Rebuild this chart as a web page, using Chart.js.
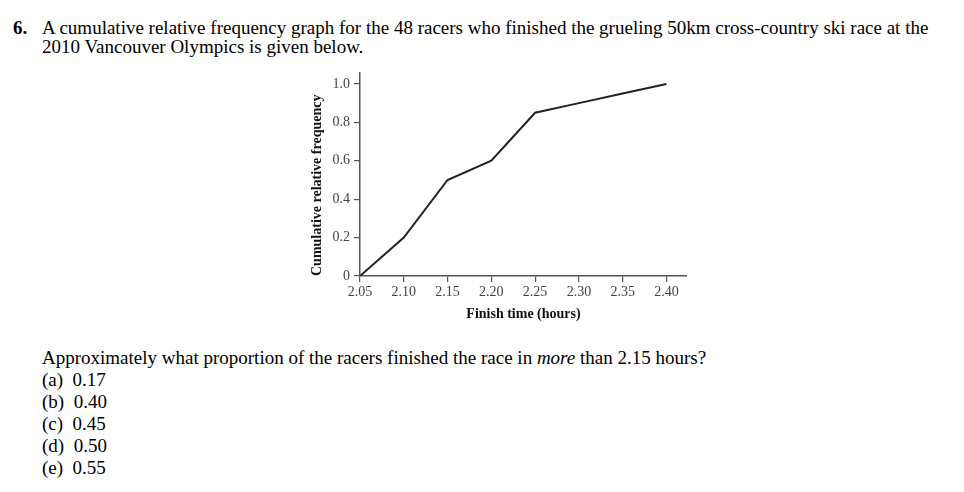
<!DOCTYPE html>
<html>
<head>
<meta charset="utf-8">
<script src="https://cdn.jsdelivr.net/npm/chart.js@4.4.1/dist/chart.umd.min.js"></script>
<style>
  html, body { margin: 0; padding: 0; background: #fff; width: 964px; height: 492px; overflow: hidden; }
  body { position: relative; font-family: "Liberation Serif", "Times New Roman", serif; color: #000; }
  .t { position: absolute; font-size: 19px; line-height: 20px; white-space: nowrap; }
  #wrap { position: absolute; left: 300px; top: 60px; width: 387px; height: 270px; }
</style>
</head>
<body>
<div class="t" style="left:13px; top:18px; font-weight:bold;">6.</div>
<div class="t" style="left:42px; top:18px;">A cumulative relative frequency graph for the 48 racers who finished the grueling 50km cross-country ski race at the</div>
<div class="t" style="left:42px; top:37px;">2010 Vancouver Olympics is given below.</div>

<div id="wrap"><canvas id="c" width="387" height="270"></canvas></div>

<div class="t" style="left:42px; top:348px;">Approximately what proportion of the racers finished the race in <i>more</i> than 2.15 hours?</div>
<div class="t" style="left:42px; top:370px;">(a)&nbsp; 0.17</div>
<div class="t" style="left:42px; top:392px;">(b)&nbsp; 0.40</div>
<div class="t" style="left:42px; top:414px;">(c)&nbsp; 0.45</div>
<div class="t" style="left:42px; top:436px;">(d)&nbsp; 0.50</div>
<div class="t" style="left:42px; top:458px;">(e)&nbsp; 0.55</div>

<script>
// Data
const finishTimes = [2.05, 2.10, 2.15, 2.20, 2.25, 2.30, 2.35, 2.40];
const cumRelFreq  = [0, 0.20, 0.50, 0.60, 0.85, 0.90, 0.95, 1.00];
const xTickValues = [2.05, 2.10, 2.15, 2.20, 2.25, 2.30, 2.35, 2.40];
const xTickLabels = ["2.05", "2.10", "2.15", "2.20", "2.25", "2.30", "2.35", "2.40"];
const yTickValues = [0, 0.2, 0.4, 0.6, 0.8, 1.0];
const yTickLabels = ["0", "0.2", "0.4", "0.6", "0.8", "1.0"];

const points = finishTimes.map((x, i) => ({ x: x, y: cumRelFreq[i] }));
const axisColor = '#555';
const tickFont = { family: "'Liberation Serif', 'Times New Roman', serif", size: 14 };
const titleFont = { family: "'Liberation Serif', 'Times New Roman', serif", size: 14, weight: 'bold' };

function findLabel(values, labels, v) {
  for (let i = 0; i < values.length; i++) if (Math.abs(values[i] - v) < 1e-6) return labels[i];
  return '';
}

new Chart(document.getElementById('c'), {
  type: 'line',
  data: {
    datasets: [{
      data: points,
      borderColor: '#222',
      borderWidth: 2,
      pointRadius: 0,
      tension: 0,
      fill: false
    }]
  },
  options: {
    responsive: false,
    animation: false,
    devicePixelRatio: 1,
    layout: { padding: { top: 9, right: 0, bottom: 0, left: 0 } },
    plugins: { legend: { display: false }, tooltip: { enabled: false } },
    scales: {
      x: {
        type: 'linear',
        min: 2.05,
        max: 2.4235,
        afterBuildTicks: (s) => { s.ticks = xTickValues.map(v => ({ value: v })); },
        afterFit: (s) => { s.height = 54; },
        ticks: {
          color: '#444',
          font: tickFont,
          padding: 2,
          maxRotation: 0,
          autoSkip: false,
          callback: (v) => findLabel(xTickValues, xTickLabels, v)
        },
        grid: { display: true, drawOnChartArea: false, drawTicks: true, tickLength: 6, color: axisColor, lineWidth: 1.2 },
        border: { display: true, color: axisColor, width: 1.5 },
        title: { display: true, text: 'Finish time (hours)', color: '#111', font: titleFont, padding: { top: 0, bottom: 7 } }
      },
      y: {
        type: 'linear',
        min: 0,
        max: 1.06,
        afterBuildTicks: (s) => { s.ticks = yTickValues.map(v => ({ value: v })); },
        afterFit: (s) => { s.width = 60; },
        ticks: {
          color: '#444',
          font: tickFont,
          padding: 4,
          autoSkip: false,
          callback: (v) => findLabel(yTickValues, yTickLabels, v)
        },
        grid: { display: true, drawOnChartArea: false, drawTicks: true, tickLength: 6, color: axisColor, lineWidth: 1.2 },
        border: { display: true, color: axisColor, width: 1.5 },
        title: { display: true, text: 'Cumulative relative frequency', align: 'start', color: '#111', font: titleFont, padding: { top: 9, bottom: 0 } }
      }
    }
  }
});
</script>
</body>
</html>
